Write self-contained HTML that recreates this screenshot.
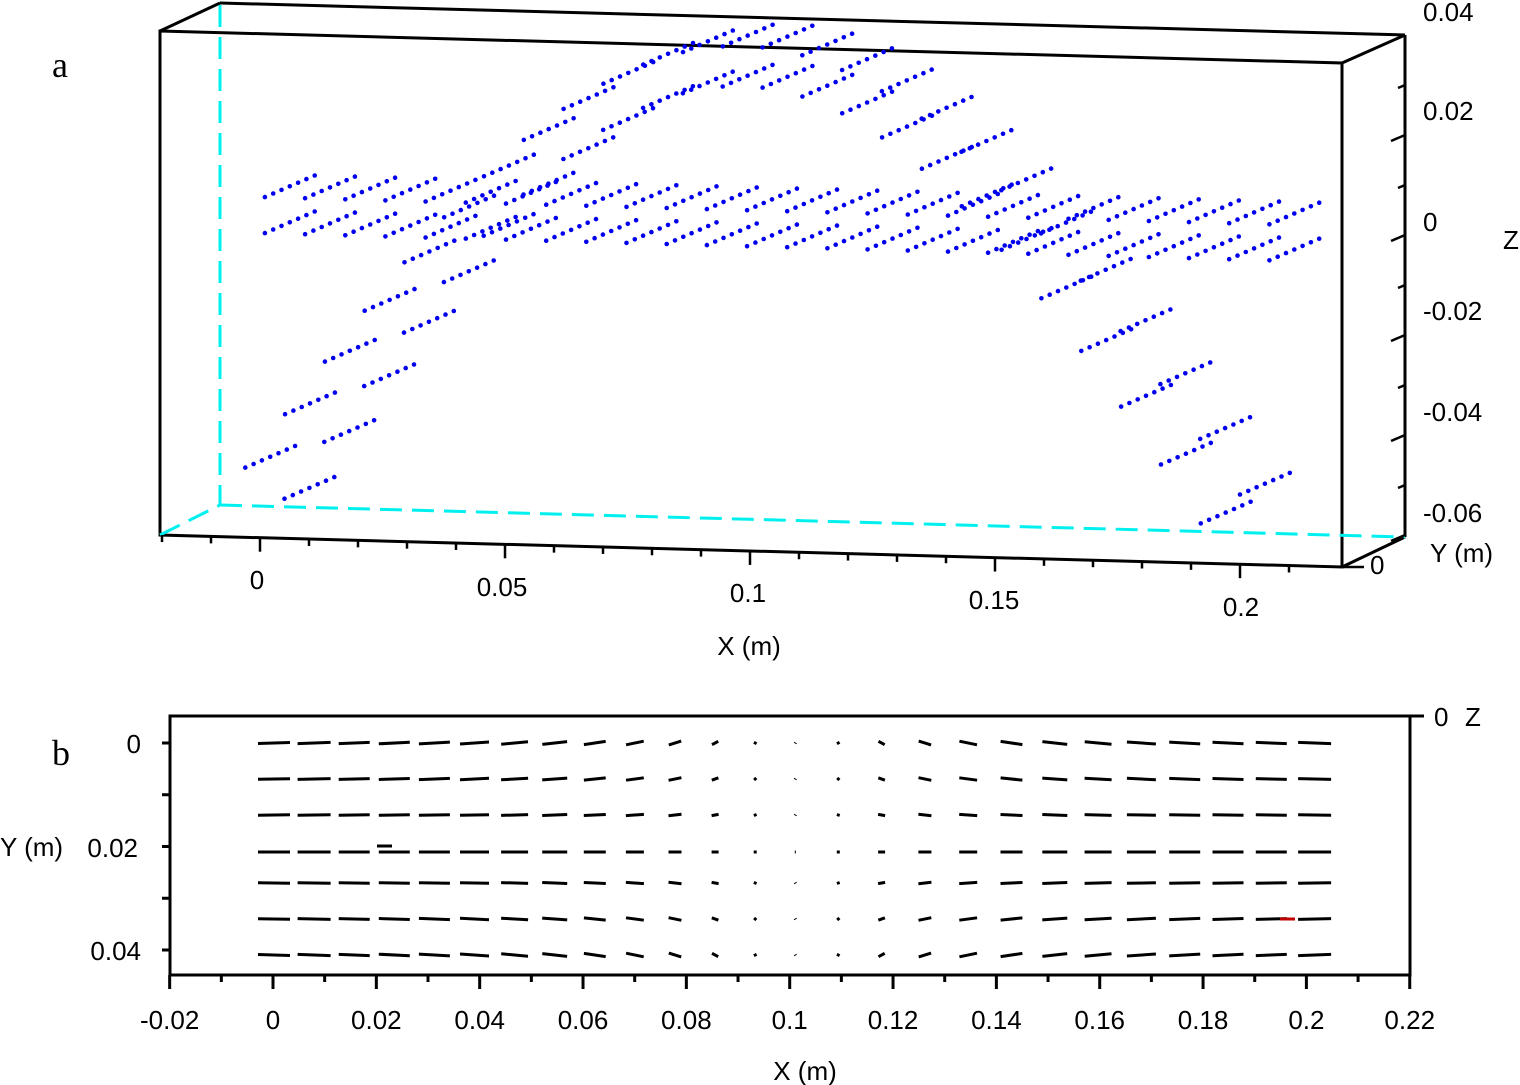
<!DOCTYPE html>
<html><head><meta charset="utf-8"><style>
body{margin:0;background:#fff;}
svg{display:block;font-family:"Liberation Sans",Arial,sans-serif;}
</style></head><body>
<svg id="s" width="1520" height="1085" viewBox="0 0 1520 1085" xmlns="http://www.w3.org/2000/svg">
<g fill="none" stroke="#000" stroke-width="3">
<polygon points="160,31 1342,63 1342,567 160,535"/>
<line x1="160" y1="31" x2="220" y2="3"/>
<line x1="220" y1="3" x2="1405" y2="35"/>
<line x1="1342" y1="63" x2="1405" y2="35"/>
<line x1="1405" y1="35" x2="1405" y2="537"/>
<line x1="1342" y1="567" x2="1405" y2="537"/>
</g>
<g stroke="#00f0f0" stroke-width="3" stroke-dasharray="22,10" fill="none">
<line x1="220" y1="5" x2="220" y2="505"/>
<line x1="220" y1="505" x2="1405" y2="537"/>
<line x1="160" y1="535" x2="220" y2="505"/>
</g>
<g id="dots" fill="#0000ee"></g>
<g id="ax" stroke="#000" stroke-width="2.5"></g>
<g font-size="26" fill="#000">
<text x="257" y="589" text-anchor="middle">0</text>
<text x="502" y="596" text-anchor="middle">0.05</text>
<text x="748" y="602" text-anchor="middle">0.1</text>
<text x="994" y="609" text-anchor="middle">0.15</text>
<text x="1241" y="616" text-anchor="middle">0.2</text>
<text x="749" y="655" text-anchor="middle">X (m)</text>
<text x="1423" y="21">0.04</text>
<text x="1423" y="120">0.02</text>
<text x="1423" y="231">0</text>
<text x="1423" y="320">-0.02</text>
<text x="1423" y="421">-0.04</text>
<text x="1423" y="522">-0.06</text>
<text x="1503" y="249">Z</text>
<text x="1430" y="562">Y (m)</text>
<text x="1370" y="574">0</text>
<text x="1434" y="726">0</text>
<text x="1465" y="726">Z</text>
<text x="141" y="753" text-anchor="end">0</text>
<text x="138" y="857" text-anchor="end">0.02</text>
<text x="141" y="960" text-anchor="end">0.04</text>
<text x="0" y="856">Y (m)</text>
<text x="805" y="1080" text-anchor="middle">X (m)</text>
</g>
<g font-family="Liberation Serif,serif" font-size="36" fill="#000">
<text x="52" y="77">a</text>
<text x="52" y="765">b</text>
</g>
<rect x="170" y="716" width="1240" height="259" fill="none" stroke="#000" stroke-width="3"/>
<g id="segs" stroke="#000" stroke-width="3"></g>
<g id="bx" font-size="26" fill="#000"></g>
</svg>
<script>
var NS="http://www.w3.org/2000/svg";
function el(p,t,a){var e=document.createElementNS(NS,t);for(var k in a)e.setAttribute(k,a[k]);p.appendChild(e);return e;}
var D=document.getElementById('dots');
function proj(X,Z){var sx=260+X*4900;return [sx,233-Z*5000+0.027*(sx-260)];}
function group(X,Z){var p=proj(X,Z);for(var i=0;i<7;i++)el(D,'circle',{cx:(p[0]+i*8.3).toFixed(1),cy:(p[1]-i*3.6).toFixed(1),r:2.3});}
for(var i=0;i<26;i++){var X=0.001+i*0.0082;group(X,0);group(X,0.0072);}
function arch(x0,x1,zmin,zmax){var n=Math.round((x1-x0)/0.0082);for(var i=0;i<=n;i++){var t=i/n;var X=x0+(x1-x0)*t;group(X,zmin+(zmax-zmin)*Math.sin(Math.PI*t));}}
arch(-0.003,0.2,-0.047,0.04);
arch(0.005,0.192,-0.053,0.032);
var A=document.getElementById('ax');
for(var k=-2;k<=21;k++){var X=k*0.01,sx=260+X*4900;if(sx<160||sx>1342)continue;var sy=535+0.027*(sx-160);var L=(k%5==0)?14:7;el(A,'line',{x1:sx,y1:sy,x2:sx,y2:sy+L});}
for(var y=85;y<=535;y+=50){var maj=((y-35)%100==0);el(A,'line',{x1:1405,y1:y,x2:1405+(maj?-14:-7),y2:y+(maj?6:3)});}
el(A,'line',{x1:1342,y1:567,x2:1364,y2:567});
var S=document.getElementById('segs');
var Lt=[1,3,7,13,18,22,25,27,29,31,31,31,33,32];
var rows=[743,779,815,852,883,919,955];
for(var c=0;c<26;c++){var cx=c<=13?274+c*40.1:795+(c-13)*43.3;var d=Math.abs(c-13);var L=Lt[Math.min(13,d)];
for(var r=0;r<7;r++){var ang=(3-r)/3*60*Math.pow(2/(d+1),1.8);if(ang>60)ang=60;if(ang<-60)ang=-60;if(c>13)ang=-ang;var a=ang*Math.PI/180;var dx=Math.cos(a)*L/2,dy=-Math.sin(a)*L/2;
el(S,'line',{x1:(cx-dx).toFixed(1),y1:(rows[r]-dy).toFixed(1),x2:(cx+dx).toFixed(1),y2:(rows[r]+dy).toFixed(1)});}}
el(S,'line',{x1:377,y1:846,x2:392,y2:846});el(S,'line',{x1:1280,y1:919,x2:1295,y2:919,stroke:'#c00000'});
var B=document.getElementById('bx');
for(var k=-2;k<=22;k++){var sx=273+k*0.01*5167;var maj=(k%2==0);el(S,'line',{x1:sx,y1:975,x2:sx,y2:975+(maj?14:7)});
if(maj){var t=el(B,'text',{x:sx,y:1029,'text-anchor':'middle'});t.textContent=k==0?'0':String(k/100);}}
for(var k=0;k<=4;k++){var y=743+k*0.01*5175;el(S,'line',{x1:170,y1:y,x2:162,y2:y});}
el(S,'line',{x1:1410,y1:716,x2:1424,y2:716});
</script>
</body></html>
